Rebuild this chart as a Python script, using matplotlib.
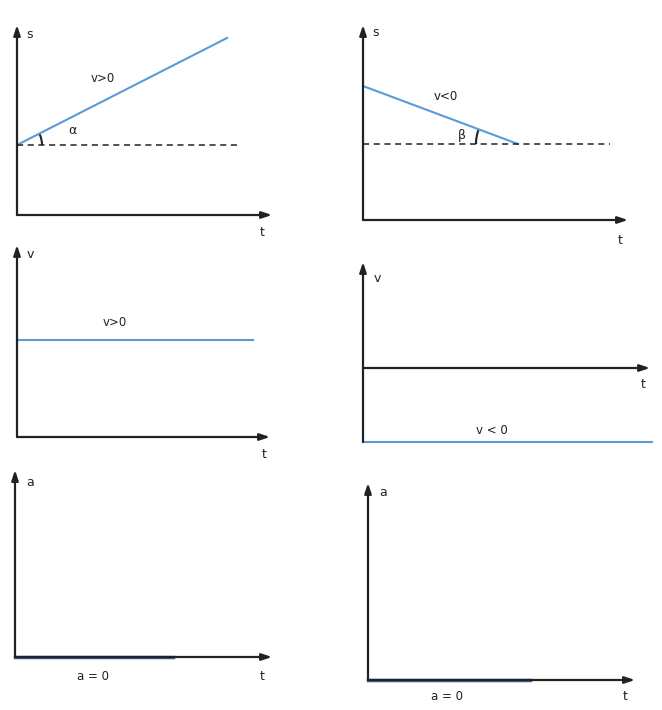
import matplotlib.pyplot as plt
from matplotlib.patches import Arc

# panel axes: (origin x, origin y, y-axis top, x-axis end) in pixel units
axis_x0 = [17, 363, 17, 363, 15, 368]
axis_ytop = [25, 25, 245, 262, 470, 483]
axis_ybot = [215, 220, 437, 442, 657, 680]
xaxis_y = [215, 220, 437, 368, 657, 680]
xaxis_end = [272, 628, 270, 650, 272, 635]
ylabels = ["s", "s", "v", "v", "a", "a"]
ylabel_pos = [(30, 35), (376, 32), (30, 254), (377, 279), (30, 482), (383, 492)]
tlabel_pos = [(262, 233), (620, 240), (264, 455), (643, 385), (262, 676), (625, 697)]

# blue graphs
blue_x = [(17, 227), (363, 518), (17, 253), (363, 652), (15, 173), (368, 530)]
blue_y = [(145, 38), (86, 144), (340, 340), (442, 442), (657, 657), (680, 680)]
blue_w = [1.5, 1.5, 1.5, 1.5, 2.5, 2.5]
blue_c = ["#5b9bd5", "#5b9bd5", "#5b9bd5", "#5b9bd5", "#2e5f9e", "#2e5f9e"]
graph_text = ["v>0", "v<0", "v>0", "v < 0", "a = 0", "a = 0"]
graph_text_pos = [(103, 78), (446, 96), (115, 323), (492, 430), (93, 676), (447, 697)]

# dashed reference lines
dash_x = [(17, 237), (363, 610)]
dash_y = [145, 144]

fig = plt.figure(figsize=(6.62, 7.10), dpi=100)
ax = fig.add_axes([0, 0, 1, 1])
ax.set_xlim(0, 662)
ax.set_ylim(710, 0)
ax.axis("off")

dark = "#222222"
arrow = dict(arrowstyle="-|>,head_length=0.6,head_width=0.2", color=dark, lw=1.6,
             shrinkA=0, shrinkB=0)
for i in range(6):
    ax.annotate("", xy=(axis_x0[i], axis_ytop[i]), xytext=(axis_x0[i], axis_ybot[i]),
                arrowprops=arrow)
    ax.annotate("", xy=(xaxis_end[i], xaxis_y[i]), xytext=(axis_x0[i], xaxis_y[i]),
                arrowprops=arrow)
    ax.text(*ylabel_pos[i], ylabels[i], fontsize=9, ha="center", va="center", color=dark)
    ax.text(*tlabel_pos[i], "t", fontsize=9, ha="center", va="center", color=dark)
    ax.plot(blue_x[i], blue_y[i], color=blue_c[i], lw=blue_w[i])
    ax.text(*graph_text_pos[i], graph_text[i], fontsize=8.5, ha="center", va="center",
            color=dark)

for xs, y in zip(dash_x, dash_y):
    ax.plot(xs, (y, y), color=dark, lw=1.1, ls=(0, (4, 3)))

# angle arcs
ax.add_patch(Arc((17, 145), 50, 50, theta1=-27, theta2=0, color=dark, lw=1.5))
ax.text(72, 131, "α", fontsize=9, ha="center", va="center", color=dark)
ax.add_patch(Arc((518, 144), 84, 84, theta1=180, theta2=200, color=dark, lw=1.5))
ax.text(462, 135, "β", fontsize=9, ha="center", va="center", color=dark)

fig.savefig("out.png", dpi=100)
